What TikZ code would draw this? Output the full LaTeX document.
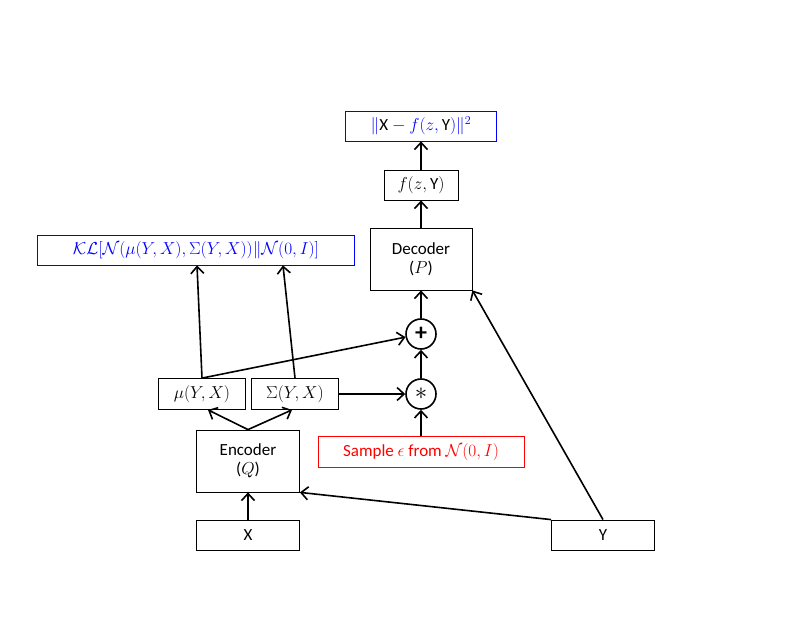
\documentclass[tikz,border=0pt]{standalone}
\usepackage{fontspec}
\setmainfont{Carlito}
\usetikzlibrary{arrows.meta}
\begin{document}
\begin{tikzpicture}[x=1pt,y=-1pt,
  box/.style={draw,line width=0.8pt,inner sep=0pt,font=\fontsize{17}{19}\selectfont,align=center},
  circ/.style={draw,circle,line width=1.6pt,minimum size=30pt,inner sep=0pt,font=\fontsize{24}{24}\selectfont\bfseries},
  arr/.style={line width=1.6pt,-{Straight Barb[length=7pt,width=13pt,line width=1.6pt]}}]
\useasboundingbox (0,0) rectangle (803,620);
\node[box,draw=blue,text=blue,minimum width=151pt,minimum height=30pt] (loss) at (421,126) {$\|\mbox{\color{black}X}-f(z,\mbox{\color{black}Y})\|^2$};
\node[box,minimum width=74pt,minimum height=30pt] (f) at (421,185) {$f(z,\mbox{Y})$};
\node[box,draw=blue,text=blue,minimum width=317pt,minimum height=30pt] (kl) at (196,250) {$\mathcal{KL}[\mathcal{N}(\mu(Y,X),\Sigma(Y,X))\|\mathcal{N}(0,I)]$};
\node[box,minimum width=102pt,minimum height=62pt] (dec) at (421,259) {Decoder\\($P$)};
\node[circ] (plus) at (421,334) {+};
\node[circ] (star) at (421,394) {$\ast$};
\node[box,minimum width=87pt,minimum height=31pt] (mu) at (202,394) {$\mu(Y,X)$};
\node[box,minimum width=87pt,minimum height=31pt] (sig) at (295,394) {$\Sigma(Y,X)$};
\node[box,minimum width=103pt,minimum height=62pt] (enc) at (248,461) {Encoder\\($Q$)};
\node[box,draw=red,text=red,minimum width=206pt,minimum height=31pt] (samp) at (421,452) {Sample $\epsilon$ from $\mathcal{N}(0,I)$};
\node[box,minimum width=103pt,minimum height=30pt] (x) at (248,535) {X};
\node[box,minimum width=103pt,minimum height=30pt] (y) at (603,535) {Y};
\draw[arr] (f) -- (loss);
\draw[arr] (dec) -- (f);
\draw[arr] (plus) -- (dec);
\draw[arr] (star) -- (plus);
\draw[arr] (samp) -- (star);
\draw[arr] (sig) -- (star);
\draw[arr] (mu.north) -- (plus);
\draw[arr] (mu.north) -- (kl.south west -| 197,0);
\draw[arr] (sig.north) -- (kl.south west -| 283,0);
\draw[arr] (enc.north) -- ([xshift=6pt]mu.south);
\draw[arr] (enc.north) -- ([xshift=-3pt]sig.south);
\draw[arr] (x) -- (enc);
\draw[arr] (y.north west) -- (enc.south east);
\draw[arr] (y.north) -- (dec.south east);
\end{tikzpicture}
\end{document}
